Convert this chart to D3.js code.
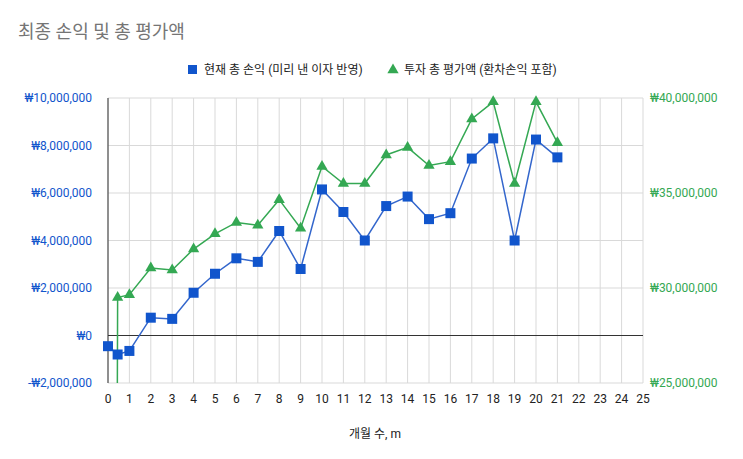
<!DOCTYPE html>
<html><head><meta charset="utf-8">
<script src="https://cdn.jsdelivr.net/npm/d3@7"></script>
<style>body{margin:0;background:#fff;font-family:Roboto,"Noto Sans CJK KR",sans-serif}</style>
</head><body><svg id="c" width="743" height="459"></svg>
<script>
const blueX = [0,0.45,1,2,3,4,5,6,7,8,9,10,11,12,13,14,15,16,17,18,19,20,21];
const blueY = [-450000,-800000,-650000,750000,700000,1800000,2600000,3250000,3100000,4400000,2800000,6150000,5200000,4000000,5450000,5850000,4900000,5150000,7450000,8300000,4000000,8250000,7500000];
const greenX = [0.38,0.45,1,2,3,4,5,6,7,8,9,10,11,12,13,14,15,16,17,18,19,20,21];
const greenY = [5000000,29500000,29650000,31050000,30950000,32050000,32850000,33450000,33300000,34650000,33150000,36400000,35500000,35500000,37000000,37400000,36450000,36650000,38900000,39800000,35500000,39800000,37650000];
const leftTicks = [-2000000,0,2000000,4000000,6000000,8000000,10000000];
const rightTicks = [25000000,30000000,35000000,40000000];
const xTicks = d3.range(0,26);
const title = "최종 손익 및 총 평가액";
const blueName = "현재 총 손익 (미리 낸 이자 반영)";
const greenName = "투자 총 평가액 (환차손익 포함)";
const xLabel = "개월 수, m";

const svg = d3.select("#c");
const L=108,R=643,T=98,B=383;
const x = d3.scaleLinear().domain([0,25]).range([L,R]);
const yL = d3.scaleLinear().domain([-2000000,10000000]).range([B,T]);
const yR = d3.scaleLinear().domain([25000000,40000000]).range([B,T]);
const fmt = v => (v<0?"-₩":"₩")+d3.format(",")(Math.abs(v));

svg.append("text").attr("x",18).attr("y",38).attr("font-size",18).attr("fill","#757575").text(title);

const g = svg.append("g");
g.selectAll(".vx").data(xTicks).join("line").attr("x1",d=>x(d)).attr("x2",d=>x(d)).attr("y1",T).attr("y2",B).attr("stroke","#d9d9d9");
g.selectAll(".hy").data(leftTicks).join("line").attr("x1",L).attr("x2",R).attr("y1",d=>yL(d)).attr("y2",d=>yL(d)).attr("stroke",d=>d===0?"#333":"#d9d9d9");
g.append("line").attr("x1",L).attr("x2",L).attr("y1",T).attr("y2",B).attr("stroke","#333");

svg.selectAll(".lt").data(leftTicks).join("text").attr("x",L-16).attr("y",d=>yL(d)+4).attr("text-anchor","end").attr("font-size",12).attr("fill","#1155cc").text(fmt);
svg.selectAll(".rt").data(rightTicks).join("text").attr("x",650).attr("y",d=>yR(d)+4).attr("font-size",12).attr("fill","#34a853").text(fmt);
svg.selectAll(".xt").data(xTicks).join("text").attr("x",d=>x(d)).attr("y",403).attr("text-anchor","middle").attr("font-size",12).attr("fill","#222").text(d=>d);
svg.append("text").attr("x",375).attr("y",438).attr("text-anchor","middle").attr("font-size",12).attr("fill","#222").text(xLabel);

svg.append("clipPath").attr("id","cp").append("rect").attr("x",L).attr("y",T-10).attr("width",R-L).attr("height",B-T+10);
const gd = svg.append("g").attr("clip-path","url(#cp)");
const green = greenX.map((d,i)=>[d,greenY[i]]);
const blue = blueX.map((d,i)=>[d,blueY[i]]);
gd.append("path").attr("d",d3.line().x(d=>x(d[0])).y(d=>yR(d[1]))(green)).attr("fill","none").attr("stroke","#34a853").attr("stroke-width",1.5);
svg.selectAll(".gm").data(green.slice(1)).join("path").attr("d",d3.symbol(d3.symbolTriangle,55)).attr("transform",d=>`translate(${x(d[0])},${yR(d[1])})`).attr("fill","#34a853");
svg.append("path").attr("d",d3.line().x(d=>x(d[0])).y(d=>yL(d[1]))(blue)).attr("fill","none").attr("stroke","#3366cc").attr("stroke-width",1.5);
svg.selectAll(".bm").data(blue).join("rect").attr("x",d=>x(d[0])-5).attr("y",d=>yL(d[1])-5).attr("width",10).attr("height",10).attr("fill","#1155cc");

// legend
svg.append("rect").attr("x",188).attr("y",65).attr("width",9).attr("height",9).attr("fill","#1155cc");
svg.append("text").attr("x",204).attr("y",74).attr("font-size",12).attr("fill","#222").text(blueName);
svg.append("path").attr("d",d3.symbol(d3.symbolTriangle,55)).attr("transform","translate(393,70)").attr("fill","#34a853");
svg.append("text").attr("x",404).attr("y",74).attr("font-size",12).attr("fill","#222").text(greenName);
</script></body></html>
